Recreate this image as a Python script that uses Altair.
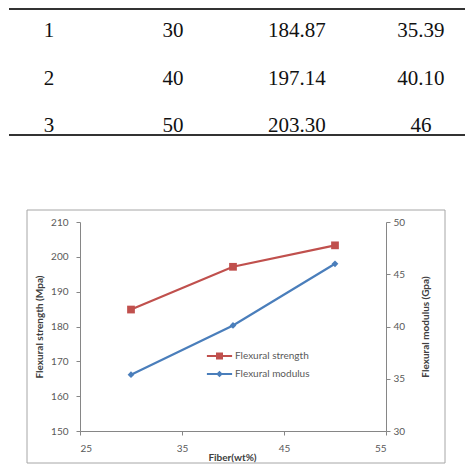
import altair as alt
import pandas as pd

# ---- data ----
sample_no = [1, 2, 3]
fiber_wt = [30, 40, 50]
flex_strength = [184.87, 197.14, 203.30]
flex_modulus = [35.39, 40.10, 46]
strength_text = ["184.87", "197.14", "203.30"]
modulus_text = ["35.39", "40.10", "46"]
series_names = ["Flexural strength", "Flexural modulus"]
x_ticks = [25, 35, 45, 55]
left_ticks = [150, 160, 170, 180, 190, 200, 210]
right_ticks = [30, 35, 40, 45, 50]

RED = "#C0504D"
BLUE = "#4A7EBB"
FONT = "Lato"
W, H = 306, 209

df = pd.DataFrame({"fiber": fiber_wt, "strength": flex_strength, "modulus": flex_modulus})

table_rows = []
for i in range(len(sample_no)):
    cells = [str(sample_no[i]), str(fiber_wt[i]), strength_text[i], modulus_text[i]]
    for c, t in enumerate(cells):
        table_rows.append({"col": c, "row": sample_no[i], "text": t})
table_df = pd.DataFrame(table_rows)

x_scale = alt.Scale(domain=[25, 55], nice=False, zero=False)

strength_layer = alt.Chart(df).mark_line(
    color=RED, strokeWidth=2.2,
    point=alt.OverlayMarkDef(shape="square", size=60, filled=True, color=RED, opacity=1),
).encode(
    x=alt.X("fiber:Q", scale=x_scale,
            axis=alt.Axis(values=x_ticks, title="Fiber(wt%)", labelPadding=8,
                          titleX=152, titleY=26, titleBaseline="middle")),
    y=alt.Y("strength:Q", scale=alt.Scale(domain=[150, 210], nice=False, zero=False),
            axis=alt.Axis(orient="left", values=left_ticks, title="Flexural strength (Mpa)",
                          labelPadding=8, titlePadding=6)),
)

modulus_layer = alt.Chart(df).mark_line(
    color=BLUE, strokeWidth=2.2,
    point=alt.OverlayMarkDef(shape="diamond", size=45, filled=True, color=BLUE, opacity=1),
).encode(
    x=alt.X("fiber:Q", scale=x_scale),
    y=alt.Y("modulus:Q", scale=alt.Scale(domain=[30, 50], nice=False, zero=False),
            axis=alt.Axis(orient="right", values=right_ticks, title="Flexural modulus (Gpa)",
                          labelPadding=3, titlePadding=26, titleAngle=270)),
)

plot = alt.layer(strength_layer, modulus_layer).resolve_scale(y="independent")

table = alt.Chart(table_df).mark_text(
    font="Liberation Serif, Times New Roman, serif", fontSize=21, color="#111111",
    baseline="middle", align="center"
).encode(
    x=alt.X("col:Q", scale=alt.Scale(domain=[0.25, 2.718], nice=False, zero=False), axis=None),
    y=alt.Y("row:Q", scale=alt.Scale(domain=[5.011, 9.411], reverse=True, nice=False, zero=False), axis=None),
    text="text:N",
)

one = alt.Data(values=[{}])
rule_top = alt.Chart(one).mark_rule(color="#333333", strokeWidth=2).encode(
    x=alt.value(-71), x2=alt.value(385), y=alt.value(-213))
rule_bot = alt.Chart(one).mark_rule(color="#333333", strokeWidth=2).encode(
    x=alt.value(-71), x2=alt.value(385), y=alt.value(-87))
frame = alt.Chart(one).mark_rect(fillOpacity=0, stroke="#a6a6a6", strokeWidth=1).encode(
    x=alt.value(-53), x2=alt.value(365), y=alt.value(-12), y2=alt.value(241))

sq_path = "M-3.6,-0.3H3.6V0.3H-3.6Z M-1,-1H1V1H-1Z"
dm_path = "M-3.6,-0.3H3.6V0.3H-3.6Z M0,-0.95L0.95,0L0,0.95L-0.95,0Z"
leg = alt.Legend(title=None, orient="none", legendX=134.5, legendY=129, symbolSize=49,
                 labelOffset=10.5, rowPadding=8, labelFont=FONT, labelFontSize=10,
                 labelColor="#595959", symbolStrokeWidth=0, padding=0)
leg_df = pd.DataFrame({"series": series_names})
legend_layer = alt.Chart(leg_df).transform_filter("false").mark_point(filled=True, opacity=1).encode(
    color=alt.Color("series:N", scale=alt.Scale(domain=series_names, range=[RED, BLUE]), legend=leg),
    shape=alt.Shape("series:N", scale=alt.Scale(domain=series_names, range=[sq_path, dm_path]), legend=leg),
)

chart = alt.layer(frame, rule_top, rule_bot, table, plot, legend_layer).resolve_scale(
    x="independent", y="independent"
).properties(width=W, height=H, padding=0, background="white").configure_view(
    stroke=None
).configure_axis(
    grid=False, domainColor="#868686", tickColor="#868686", labelColor="#595959",
    titleColor="#404040", labelFont=FONT, titleFont=FONT, labelFontSize=10,
    titleFontSize=10, titleFontWeight="bold", tickSize=4,
)

chart.save("out.html", embed_options={"renderer": "svg", "actions": False})
